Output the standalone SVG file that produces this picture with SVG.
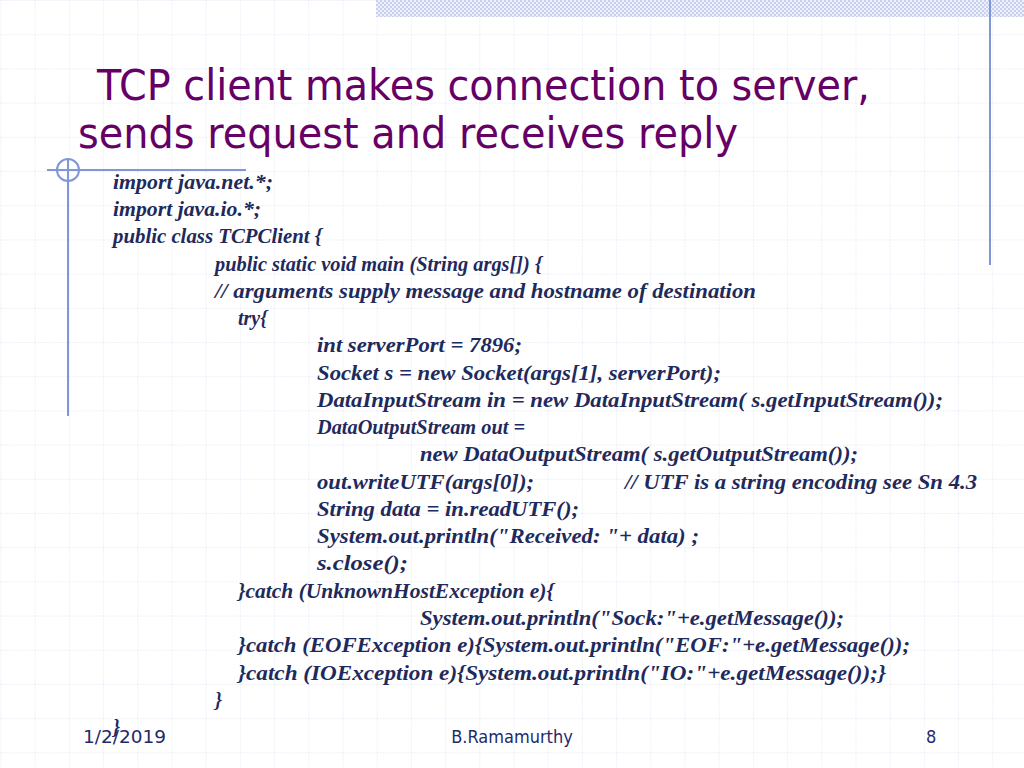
<svg xmlns="http://www.w3.org/2000/svg" width="1024" height="768" viewBox="0 0 1024 768">
<defs>
<pattern id="grid" width="34.2" height="34.2" patternUnits="userSpaceOnUse" x="0.5" y="0">
<path d="M0 0H34.2M0 0V34.2" fill="none" stroke="#dde3f3" stroke-width="1" stroke-dasharray="2 1"/>
</pattern>
<pattern id="dots" width="4" height="4" patternUnits="userSpaceOnUse">
<rect width="4" height="4" fill="#eef1fb"/><rect width="2" height="2" fill="#c8d0ee"/><rect x="2" y="2" width="2" height="2" fill="#c8d0ee"/>
</pattern>
<style>
.t{font-family:"DejaVu Sans",Verdana,sans-serif;font-size:43px;fill:#660066}
.c{font-family:"Liberation Serif","Times New Roman",serif;font-size:20px;font-style:italic;font-weight:bold;fill:#1f2a5c}
.f{font-family:"DejaVu Sans Condensed","DejaVu Sans",sans-serif;font-size:18px;fill:#1f2a6a}
.d{stroke:#7f96d8;stroke-width:2;fill:none}
</style>
</defs>
<rect width="1024" height="768" fill="#ffffff"/>
<rect width="1024" height="768" fill="url(#grid)"/>
<rect x="376" y="0" width="648" height="17" fill="url(#dots)"/>
<g id="decor">
<line class="d" x1="990" y1="0" x2="990" y2="265"/>
<line class="d" x1="47" y1="170" x2="246" y2="170"/>
<line class="d" x1="68" y1="160" x2="68" y2="416"/>
<circle class="d" cx="68" cy="170" r="11"/>
</g>
<g id="title">
<text class="t" x="97" y="100" textLength="773" lengthAdjust="spacingAndGlyphs">TCP client makes connection to server,</text>
<text class="t" x="78" y="148" textLength="660" lengthAdjust="spacingAndGlyphs">sends request and receives reply</text>
</g>
<g id="code">
<text class="c" x="113" y="189" textLength="160" lengthAdjust="spacingAndGlyphs">import java.net.*;</text>
<text class="c" x="113" y="216" textLength="148" lengthAdjust="spacingAndGlyphs">import java.io.*;</text>
<text class="c" x="113" y="243" textLength="209" lengthAdjust="spacingAndGlyphs">public class TCPClient {</text>
<text class="c" x="215" y="271" textLength="327" lengthAdjust="spacingAndGlyphs">public static void main (String args[]) {</text>
<text class="c" x="215" y="298" textLength="541" lengthAdjust="spacingAndGlyphs">// arguments supply message and hostname of destination</text>
<text class="c" x="238" y="325">try{</text>
<text class="c" x="317" y="352" textLength="205" lengthAdjust="spacingAndGlyphs">int serverPort = 7896;</text>
<text class="c" x="317" y="380" textLength="404" lengthAdjust="spacingAndGlyphs">Socket s = new Socket(args[1], serverPort);</text>
<text class="c" x="317" y="407" textLength="626" lengthAdjust="spacingAndGlyphs">DataInputStream in = new DataInputStream( s.getInputStream());</text>
<text class="c" x="317" y="434" textLength="208" lengthAdjust="spacingAndGlyphs">DataOutputStream out =</text>
<text class="c" x="420" y="461" textLength="438" lengthAdjust="spacingAndGlyphs">new DataOutputStream( s.getOutputStream());</text>
<text class="c" x="317" y="489" textLength="217" lengthAdjust="spacingAndGlyphs">out.writeUTF(args[0]);</text>
<text class="c" x="625" y="489" textLength="352" lengthAdjust="spacingAndGlyphs">// UTF is a string encoding see Sn 4.3</text>
<text class="c" x="317" y="516" textLength="262" lengthAdjust="spacingAndGlyphs">String data = in.readUTF();</text>
<text class="c" x="317" y="543" textLength="382" lengthAdjust="spacingAndGlyphs">System.out.println("Received: "+ data) ;</text>
<text class="c" x="317" y="570" textLength="91" lengthAdjust="spacingAndGlyphs">s.close();</text>
<text class="c" x="238" y="598" textLength="316" lengthAdjust="spacingAndGlyphs">}catch (UnknownHostException e){</text>
<text class="c" x="420" y="625" textLength="424" lengthAdjust="spacingAndGlyphs">System.out.println("Sock:"+e.getMessage());</text>
<text class="c" x="238" y="652" textLength="672" lengthAdjust="spacingAndGlyphs">}catch (EOFException e){System.out.println("EOF:"+e.getMessage());</text>
<text class="c" x="238" y="680" textLength="648" lengthAdjust="spacingAndGlyphs">}catch (IOException e){System.out.println("IO:"+e.getMessage());}</text>
<text class="c" x="215" y="707">}</text>
<text class="c" x="113" y="734">}</text>
</g>
<g id="footer">
<text class="f" x="83" y="743" textLength="83" lengthAdjust="spacingAndGlyphs">1/2/2019</text>
<text class="f" x="512" y="743" text-anchor="middle">B.Ramamurthy</text>
<text class="f" x="926" y="743">8</text>
</g>
</svg>
